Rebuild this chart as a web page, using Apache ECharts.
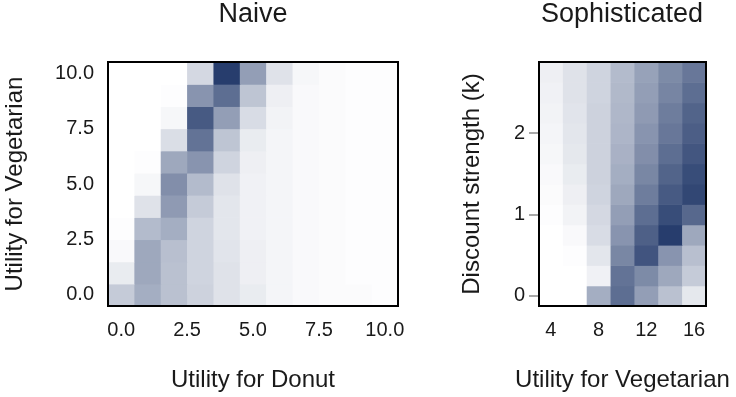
<!DOCTYPE html>
<html>
<head>
<meta charset="utf-8">
<script src="https://cdn.jsdelivr.net/npm/echarts@6/dist/echarts.min.js"></script>
<style>html,body{margin:0;padding:0;background:#fff}#c{width:736px;height:397px}</style>
</head>
<body>
<div id="c"></div>
<script>
// Naive panel: utility for donut (x) vs utility for vegetarian (y)
var naiveX = [0,1,2,3,4,5,6,7,8,9,10];
var naiveY = [0,1,2,3,4,5,6,7,8,9,10];
// rows from y=0 (bottom) to y=10 (top), columns x=0..10
var naiveValues = [
  [0.27,0.42,0.32,0.23,0.15,0.10,0.05,0.03,0.02,0.02,0.01],
  [0.10,0.45,0.32,0.22,0.15,0.08,0.05,0.03,0.02,0.01,0.01],
  [0.03,0.45,0.33,0.22,0.14,0.08,0.05,0.03,0.02,0.01,0.01],
  [0.01,0.35,0.42,0.22,0.13,0.07,0.05,0.03,0.02,0.01,0.01],
  [0.00,0.15,0.52,0.27,0.13,0.07,0.05,0.03,0.02,0.01,0.01],
  [0.00,0.04,0.58,0.35,0.15,0.07,0.05,0.03,0.02,0.01,0.01],
  [0.00,0.01,0.45,0.55,0.22,0.08,0.05,0.03,0.02,0.01,0.01],
  [0.00,0.00,0.17,0.72,0.30,0.10,0.05,0.03,0.02,0.01,0.01],
  [0.00,0.00,0.04,0.85,0.50,0.18,0.06,0.03,0.02,0.01,0.01],
  [0.00,0.00,0.01,0.55,0.75,0.30,0.08,0.03,0.02,0.01,0.01],
  [0.00,0.00,0.00,0.20,1.00,0.50,0.15,0.04,0.02,0.01,0.01]
];
var naiveXTicks = [0, 2.5, 5, 7.5, 10];
var naiveYTicks = [0, 2.5, 5, 7.5, 10];

// Sophisticated panel: utility for vegetarian (x) vs discount strength k (y)
var sophX = [4,6,8,10,12,14,16];
var sophY = [0,0.25,0.5,0.75,1,1.25,1.5,1.75,2,2.25,2.5,2.75];
var sophValues = [
  [0.00,0.00,0.42,0.75,0.50,0.32,0.12],
  [0.00,0.00,0.07,0.72,0.60,0.45,0.27],
  [0.00,0.01,0.13,0.62,0.88,0.55,0.33],
  [0.00,0.03,0.18,0.55,0.82,1.00,0.45],
  [0.01,0.06,0.20,0.50,0.75,0.92,0.78],
  [0.02,0.08,0.22,0.45,0.67,0.85,0.95],
  [0.03,0.10,0.23,0.42,0.62,0.80,0.92],
  [0.04,0.12,0.23,0.40,0.58,0.75,0.87],
  [0.05,0.13,0.23,0.38,0.55,0.70,0.83],
  [0.06,0.14,0.23,0.37,0.52,0.67,0.80],
  [0.07,0.15,0.22,0.36,0.50,0.63,0.75],
  [0.08,0.15,0.22,0.35,0.48,0.60,0.70]
];
var sophXTicks = [4, 8, 12, 16];
var sophYTicks = [0, 1, 2];

function toData(xs, ys, vals) {
  var out = [];
  for (var j = 0; j < ys.length; j++)
    for (var i = 0; i < xs.length; i++)
      out.push([xs[i], ys[j], vals[j][i]]);
  return out;
}
function cellRenderer(w, h) {
  return function (params, api) {
    var x = api.value(0), y = api.value(1);
    var p0 = api.coord([x - w / 2, y + h / 2]);
    var p1 = api.coord([x + w / 2, y - h / 2]);
    return {
      type: 'rect',
      shape: { x: p0[0], y: p0[1], width: p1[0] - p0[0] + 0.6, height: p1[1] - p0[1] + 0.6 },
      style: { fill: api.visual('color') }
    };
  };
}

var FONT = 'Liberation Sans';
var TXT = '#1a1a1a';
function axisCommon(ticks, fmt) {
  return {
    axisLine: { show: false },
    splitLine: { show: false },
    offset: 1,
    axisTick: { show: true, length: 9, customValues: ticks, lineStyle: { color: '#8c8c8c', width: 1.5 } },
    axisLabel: { customValues: ticks, formatter: fmt, fontFamily: FONT, fontSize: 20, color: TXT, margin: 13 },
    nameTextStyle: { fontFamily: FONT, fontSize: 24, color: TXT },
    nameLocation: 'middle'
  };
}
function merge(a, b) { for (var k in b) a[k] = b[k]; return a; }
var f1 = function (v) { return v.toFixed(1); };
var f0 = function (v) { return String(Math.round(v)); };

var chart = echarts.init(document.getElementById('c'));
chart.setOption({
  animation: false,
  backgroundColor: '#fff',
  title: [
    { text: 'Naive', left: 253, top: 1, padding: 0, textAlign: 'center', textStyle: { fontFamily: FONT, fontSize: 27, fontWeight: 'normal', color: TXT } },
    { text: 'Sophisticated', left: 622, top: 1, padding: 0, textAlign: 'center', textStyle: { fontFamily: FONT, fontSize: 27, fontWeight: 'normal', color: TXT } }
  ],
  grid: [
    { left: 108, top: 62, width: 290, height: 246, show: true, borderColor: '#000', borderWidth: 2, backgroundColor: 'transparent', z: 10 },
    { left: 539, top: 62, width: 167, height: 245, show: true, borderColor: '#000', borderWidth: 2, backgroundColor: 'transparent', z: 10 }
  ],
  xAxis: [
    merge(axisCommon(naiveXTicks, f1), { type: 'value', gridIndex: 0, min: -0.5, max: 10.5, name: 'Utility for Donut', nameGap: 61 }),
    merge(axisCommon(sophXTicks, f0), { type: 'value', gridIndex: 1, min: 3, max: 17, name: 'Utility for Vegetarian', nameGap: 61 })
  ],
  yAxis: [
    merge(axisCommon(naiveYTicks, f1), { type: 'value', gridIndex: 0, min: -0.5, max: 10.5, name: 'Utility for Vegetarian', nameGap: 80 }),
    merge(axisCommon(sophYTicks, f0), { type: 'value', gridIndex: 1, min: -0.125, max: 2.875, name: 'Discount strength (k)', nameGap: 54 })
  ],
  visualMap: [
    { show: false, seriesIndex: 0, dimension: 2, min: 0, max: 1, inRange: { color: ['#ffffff', '#273d6d'] } },
    { show: false, seriesIndex: 1, dimension: 2, min: 0, max: 1, inRange: { color: ['#ffffff', '#273d6d'] } }
  ],
  series: [
    { type: 'custom', xAxisIndex: 0, yAxisIndex: 0, renderItem: cellRenderer(1, 1), data: toData(naiveX, naiveY, naiveValues), encode: { x: 0, y: 1 }, clip: true },
    { type: 'custom', xAxisIndex: 1, yAxisIndex: 1, renderItem: cellRenderer(2, 0.25), data: toData(sophX, sophY, sophValues), encode: { x: 0, y: 1 }, clip: true }
  ]
});
</script>
</body>
</html>
